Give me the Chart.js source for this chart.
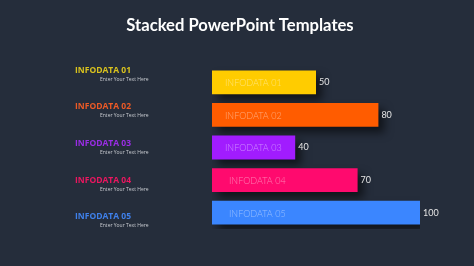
<!DOCTYPE html>
<html lang="en">
<head>
  <title>Stacked PowerPoint Templates</title>
  <script src="https://cdn.jsdelivr.net/npm/chart.js"></script>
</head>

<style>
  html, body {
    margin: 0;
    padding: 0;
    background-color: #252d3b;
  }
  #chart-box {
    width: 474px;
    height: 266px;
  }
</style>

<body>
  <div id="chart-box">
    <canvas id="bar-chart"></canvas>
  </div>

  <script>
    // data
    const chartTitle = 'Stacked PowerPoint Templates';
    const categories = ['INFODATA 01', 'INFODATA 02', 'INFODATA 03', 'INFODATA 04', 'INFODATA 05'];
    const values = [50, 80, 40, 70, 100];
    const subTexts = ['Enter Your Text Here', 'Enter Your Text Here', 'Enter Your Text Here', 'Enter Your Text Here', 'Enter Your Text Here'];
    const barColors = ['#ffcc00', '#ff5c00', '#a11cff', '#ff0a6e', '#3b86ff'];
    const labelColors = ['#d9c21e', '#ec5a26', '#9a2de6', '#ea1760', '#3f80ea'];

    // shadow under the bars
    const barShadow = {
      id: 'barShadow',
      beforeDatasetsDraw(chart) {
        const ctx = chart.ctx;
        ctx.save();
        ctx.shadowColor = 'rgba(0, 0, 0, 0.55)';
        ctx.shadowBlur = 8;
        ctx.shadowOffsetX = 6;
        ctx.shadowOffsetY = 6;
      },
      afterDatasetsDraw(chart) {
        chart.ctx.restore();
      }
    };

    // title, texts inside bars, values at bar ends, left side labels
    const textLabels = {
      id: 'textLabels',
      afterDatasetsDraw(chart) {
        const ctx = chart.ctx;
        const meta = chart.getDatasetMeta(0);
        const yScale = chart.scales.y;
        ctx.save();
        ctx.textBaseline = 'middle';

        ctx.font = 'bold 16.6px Lato';
        ctx.fillStyle = '#ffffff';
        ctx.textAlign = 'center';
        ctx.fillText(chartTitle, 240, 26);

        ctx.textAlign = 'left';
        meta.data.forEach(function(bar, i) {
          // name inside the bar
          ctx.font = '300 9px Lato';
          ctx.fillStyle = 'rgba(255, 255, 255, 0.45)';
          ctx.fillText(categories[i], bar.base + 13 + (i >= 3 ? 4 : 0), bar.y + 1);

          // value at the end
          ctx.font = '9px Lato';
          ctx.fillStyle = '#e4e4e4';
          ctx.fillText(values[i], bar.x + 3, bar.y);

          // left side label
          var ly = yScale.getPixelForValue(i) - 12 + i * 4;
          ctx.font = 'bold 8.5px "Open Sans"';
          ctx.fillStyle = labelColors[i];
          ctx.fillText(categories[i], 75, ly);
          ctx.font = '5px "Open Sans"';
          ctx.fillStyle = '#c8cbd0';
          ctx.fillText(subTexts[i], 100, ly + 9);
        });
        ctx.restore();
      }
    };

    var ctx1 = document.getElementById('bar-chart').getContext('2d');
    var chart1 = new Chart(ctx1, {
      type: 'bar',
      data: {
        labels: categories,
        datasets: [{
          data: values,
          backgroundColor: barColors,
          borderWidth: 0,
          barPercentage: 0.73,
          categoryPercentage: 1
        }]
      },
      options: {
        indexAxis: 'y',
        responsive: true,
        maintainAspectRatio: false,
        animation: false,
        layout: {
          padding: { left: 212, right: 54, top: 66, bottom: 37 }
        },
        scales: {
          x: { display: false, min: 0, max: 100 },
          y: { display: false }
        },
        plugins: {
          legend: { display: false },
          tooltip: { enabled: false },
          title: { display: false }
        }
      },
      plugins: [barShadow, textLabels]
    });
  </script>
</body>

</html>
